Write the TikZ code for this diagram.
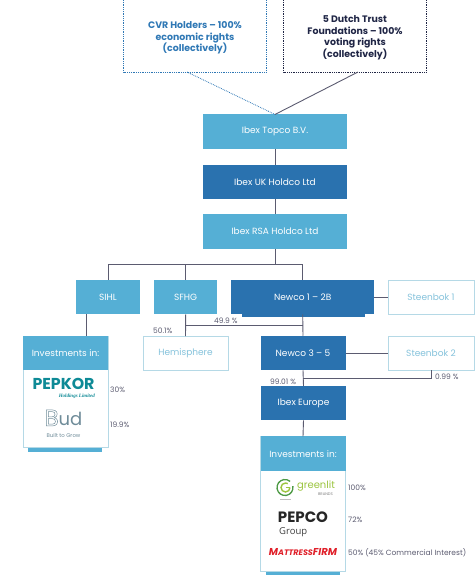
\documentclass[tikz,border=0pt]{standalone}
\usepackage{fontspec}
\setmainfont{Poppins}
\newfontfamily\logoserif{Liberation Serif}
\newfontfamily\logosans{Open Sans}
\usetikzlibrary{calc}
\definecolor{lightbox}{HTML}{55AFD5}
\definecolor{darkbox}{HTML}{2A72AF}
\definecolor{paleline}{HTML}{B5D9E6}
\definecolor{paletext}{HTML}{86C3DC}
\definecolor{linkgrey}{HTML}{5B5B70}
\definecolor{inktext}{HTML}{1F2545}
\definecolor{cvrblue}{HTML}{2F78B5}
\definecolor{leafgreen}{HTML}{9CC540}
\definecolor{leafdark}{HTML}{4E9A45}
\definecolor{pepkorteal}{HTML}{0E8A96}
\definecolor{budgrey}{HTML}{6F8C99}
\definecolor{firmred}{HTML}{E0202A}
\tikzset{
  lightco/.style={fill=lightbox,text=white,inner sep=0pt,outer sep=0pt,font=\fontsize{9}{10}\selectfont,align=center},
  darkco/.style={lightco,fill=darkbox},
  paleco/.style={draw=paleline,line width=0.8pt,fill=white,text=paletext,inner sep=0pt,outer sep=0pt,font=\fontsize{9}{10}\selectfont},
  link/.style={draw=linkgrey,line width=0.9pt},
  dotlink/.style={densely dotted,line width=0.8pt},
  pct/.style={text=linkgrey,inner sep=0pt,font=\fontsize{7.5}{8}\selectfont},
  holder/.style={inner sep=0pt,outer sep=0pt,align=center,font=\fontsize{9.4}{11.5}\selectfont\bfseries,minimum width=143pt,minimum height=68pt},
}
\begin{document}
\begin{tikzpicture}[x=1pt,y=-1pt]
  \useasboundingbox (0,0) rectangle (474,575);
  % holders
  \node[holder,text=cvrblue] (cvr) at (195,38) {CVR Holders – 100\%\\economic rights\\(collectively)};
  \node[holder,text=inktext] (dutch) at (355,38) {5 Dutch Trust\\Foundations – 100\%\\voting rights\\(collectively)};
  \draw[cvrblue,dotlink] ([yshift=4]cvr.north west) -- (cvr.south west) -- (cvr.south east) -- ([yshift=4]cvr.north east);
  \draw[inktext,dotlink] ([yshift=4]dutch.north west) -- (dutch.south west) -- (dutch.south east) -- ([yshift=4]dutch.north east);
  % holdco stack
  \node[lightco,minimum width=144pt,minimum height=34.5pt] (topco) at (275,131.7) {Ibex Topco B.V.};
  \node[darkco,minimum width=144pt,minimum height=34.5pt] (ukhold) at (275,182) {Ibex UK Holdco Ltd};
  \node[lightco,minimum width=144pt,minimum height=34.5pt] (rsahold) at (275,231.5) {Ibex RSA Holdco Ltd};
  % second row
  \node[lightco,minimum width=64pt,minimum height=34.5pt] (sihl) at (108,297.2) {SIHL};
  \node[lightco,minimum width=63.5pt,minimum height=34.5pt] (sfhg) at (185.7,297.2) {SFHG};
  \fill[darkbox] (241.5,312) rectangle (365,317.3);
  \node[darkco,minimum width=143.5pt,minimum height=34.5pt] (newcoa) at (302.7,297.2) {Newco 1 – 2B};
  \node[paleco,minimum width=86pt,minimum height=34pt] (steena) at (431,297.2) {Steenbok 1};
  % third row
  \node[paleco,minimum width=85pt,minimum height=34pt] (hemi) at (185.5,353) {Hemisphere};
  \node[darkco,minimum width=85pt,minimum height=34.5pt] (newcob) at (303,353) {Newco 3 – 5};
  \node[paleco,minimum width=86pt,minimum height=34pt] (steenb) at (431,353) {Steenbok 2};
  \node[darkco,minimum width=85pt,minimum height=34.5pt] (europe) at (303.5,403.2) {Ibex Europe};
  % investments left
  \fill[lightbox] (28,448) rectangle (102,452);
  \node[paleco,minimum width=85pt,minimum height=111pt] (invabody) at (65.5,391.5) {};
  \node[lightco,minimum width=85pt,minimum height=34.5pt] (invahead) at (65.5,353) {Investments in:};
  % investments right
  \fill[lightbox] (266,570) rectangle (340,575);
  \node[paleco,minimum width=85pt,minimum height=134.5pt] (invbbody) at (303,503.7) {};
  \node[lightco,minimum width=85pt,minimum height=34.5pt] (invbhead) at (303,453.7) {Investments in:};
  % links
  \draw[cvrblue,dotlink] ([xshift=-8]cvr.south) -- (topco.north);
  \draw[link] ([xshift=3]dutch.south) -- (topco.north);
  \draw[link] (topco) -- (ukhold);
  \draw[link] (ukhold) -- (rsahold);
  \coordinate (busleft) at (108,264.7);
  \draw[link] (rsahold.south) -- (rsahold.south |- busleft);
  \draw[link] (sihl.north) -- (busleft) -- (busleft -| newcoa.north) -- (newcoa.north);
  \draw[link] (sfhg.north) -- (sfhg.north |- busleft);
  \draw[link] ([xshift=-21.5]sihl.south) -- ([xshift=21]invahead.north);
  \draw[link] (sfhg.south) -- (hemi.north);
  \draw[link] (newcoa.south) -- (newcob.north);
  \coordinate (crossa) at (185.5,325.7);
  \draw[link] (crossa) -- (crossa -| newcob.north);
  \draw[link] (newcoa) -- (steena);
  \draw[link] (newcob) -- (steenb);
  \draw[link] (newcob.south) -- (europe.north);
  \coordinate (crossb) at (303,378);
  \draw[link] (crossb) -- (crossb -| steenb.south) -- (steenb.south);
  \draw[link] (europe.south) -- (invbhead.north);
  % percentages
  \node[pct,anchor=west] (pcthemi) at (153,331) {50.1\%};
  \node[pct,anchor=west] (pctnewa) at (214,321) {49.9 \%};
  \node[pct,anchor=west] (pctnewb) at (270,381.5) {99.01 \%};
  \node[pct,anchor=west] (pctsteen) at (435,376.7) {0.99 \%};
  \node[pct,anchor=west] (pctpep) at (110,389.5) {30\%};
  \node[pct,anchor=west] (pctbud) at (110,424.3) {19.9\%};
  \node[pct,anchor=west] (pctgreen) at (348,487.5) {100\%};
  \node[pct,anchor=west] (pctpepco) at (348,520) {72\%};
  \node[pct,anchor=west] (pctmatt) at (348,552.5) {50\% (45\% Commercial Interest)};
  % logos
  \node[inner sep=0pt,text=pepkorteal,font=\fontsize{15.8}{16}\selectfont\bfseries] (pepkor) at (63.5,384) {PEPKOR};
  \node[inner sep=0pt,text=pepkorteal,anchor=east,font=\fontsize{5}{6}\logoserif\itshape\bfseries] (pepkorsub) at (95,396.5) {Holdings Limited};
  \node[inner sep=0pt,text=budgrey,font=\fontsize{18}{19}\selectfont] (budname) at (63.5,418) {{\fontsize{23}{24}\selectfont\special{pdf:code 1 Tr 0.5 w}B\special{pdf:code 0 Tr}}ud};
  \node[inner sep=0pt,text=budgrey,font=\fontsize{5.4}{6}\selectfont] (budsub) at (63.5,435) {Built to Grow};
  \draw[leafdark,line width=1.3pt] (285,487.5) ++(350:8) arc (350:670:8);
  \draw[leafgreen,line width=1.4pt] (285.5,487.5) ++(0:4.5) arc (0:300:4.5);
  \draw[leafgreen,line width=1.2pt] (285.5,487.5) -- (290,487.5);
  \draw[black!25,line width=0.5pt] (280,499) -- (291,499);
  \node[inner sep=0pt,text=leafgreen,font=\fontsize{10}{12}\selectfont] (greenlit) at (316,486.5) {greenlit};
  \node[inner sep=0pt,text=black!50,font=\fontsize{3.8}{4}\selectfont] (greensub) at (325.5,494.5) {BRANDS};
  \node[inner sep=0pt,text=black!85,font=\fontsize{15}{16}\selectfont\bfseries] (pepco) at (303,517.5) {PEPCO};
  \node[inner sep=0pt,text=black!75,anchor=west,font=\fontsize{9.5}{10}\logosans] (pepcosub) at (279,532) {Group};
  \node[inner sep=0pt,text=firmred,font=\bfseries\itshape] (mattress) at (303,552.5) {{\fontsize{10}{11}\selectfont M}{\fontsize{8}{9}\selectfont ATTRESS}{\fontsize{10}{11}\selectfont FIRM}};
\end{tikzpicture}
\end{document}
